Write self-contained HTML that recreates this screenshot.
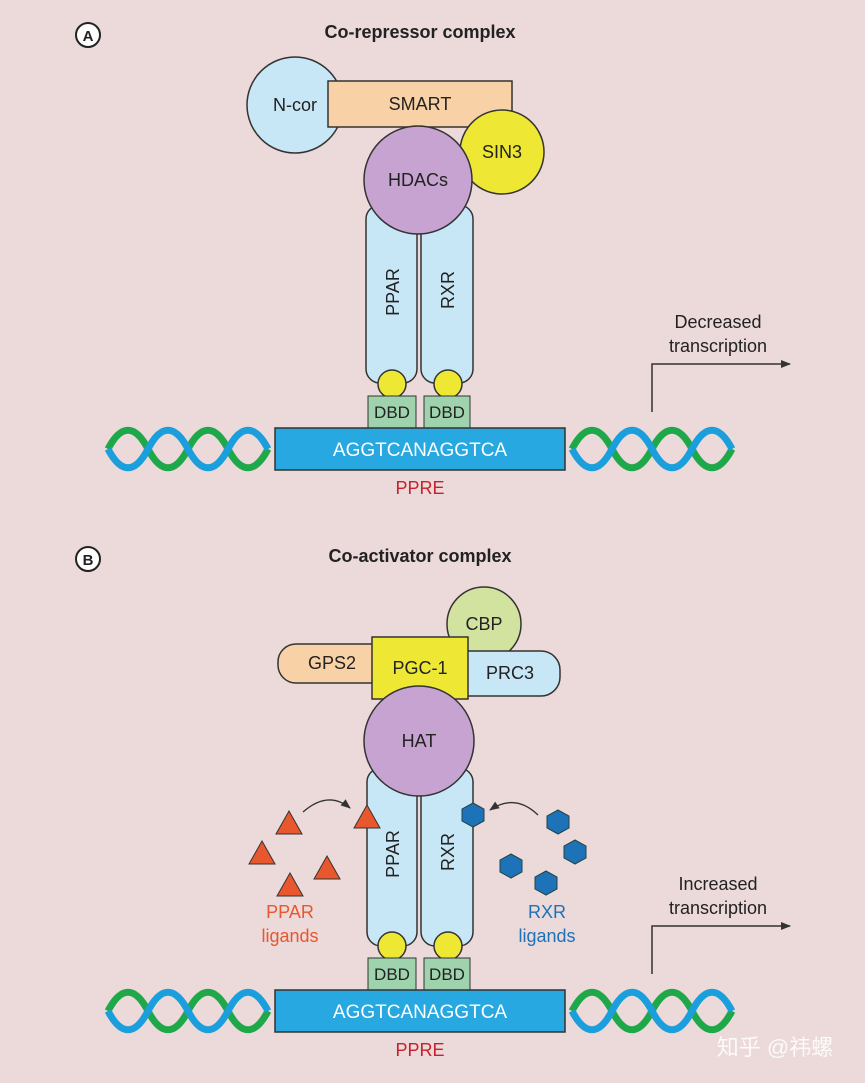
<!DOCTYPE html>
<html><head><meta charset="utf-8"><style>
html,body{margin:0;padding:0;background:#ecd9d9;}
svg{display:block;}
text{font-family:"Liberation Sans","Noto Sans CJK SC",sans-serif;}
</style></head><body>
<svg width="865" height="1083" viewBox="0 0 865 1083" xmlns="http://www.w3.org/2000/svg">
<defs>
<marker id="ah" markerWidth="10" markerHeight="8" refX="9" refY="4" orient="auto" markerUnits="userSpaceOnUse"><path d="M0,0 L10,4 L0,8 Z" fill="#333"/></marker>
<g id="helix">
<path d="M0,21 C13,-4 27,-4 40,21 S67,46 80,21 S107,-4 120,21 S147,46 160,21" fill="none" stroke="#1fa84a" stroke-width="7"/>
<path d="M0,21 C13,46 27,46 40,21 S67,-4 80,21 S107,46 120,21 S147,-4 160,21" fill="none" stroke="#1b9fdc" stroke-width="7"/>
</g>
</defs>
<rect width="865" height="1083" fill="#ecd9d9"/>

<!-- Panel A -->
<circle cx="88" cy="35" r="12" fill="#fff" stroke="#222" stroke-width="2"/>
<text x="88" y="41" font-size="15" font-weight="bold" text-anchor="middle" fill="#222">A</text>
<text x="420" y="38" font-size="18" font-weight="bold" text-anchor="middle" fill="#222">Co-repressor complex</text>

<circle cx="295" cy="105" r="48" fill="#c7e6f6" stroke="#333" stroke-width="1.5"/>
<text x="295" y="111" font-size="18" text-anchor="middle" fill="#222">N-cor</text>
<rect x="328" y="81" width="184" height="46" fill="#f8d2a6" stroke="#333" stroke-width="1.5"/>
<text x="420" y="110" font-size="18" text-anchor="middle" fill="#222">SMART</text>
<circle cx="502" cy="152" r="42" fill="#eee835" stroke="#333" stroke-width="1.5"/>
<text x="502" y="158" font-size="18" text-anchor="middle" fill="#222">SIN3</text>

<rect x="366" y="205" width="51" height="178" rx="14" fill="#c7e6f6" stroke="#333" stroke-width="1.5"/>
<rect x="421" y="205" width="52" height="178" rx="14" fill="#c7e6f6" stroke="#333" stroke-width="1.5"/>
<circle cx="418" cy="180" r="54" fill="#c6a3d0" stroke="#333" stroke-width="1.5"/>
<text x="418" y="186" font-size="18" text-anchor="middle" fill="#222">HDACs</text>
<text transform="translate(399,292) rotate(-90)" font-size="18" text-anchor="middle" fill="#222">PPAR</text>
<text transform="translate(454,290) rotate(-90)" font-size="18" text-anchor="middle" fill="#222">RXR</text>
<circle cx="392" cy="384" r="14" fill="#eee835" stroke="#333" stroke-width="1.5"/>
<circle cx="448" cy="384" r="14" fill="#eee835" stroke="#333" stroke-width="1.5"/>
<rect x="368" y="396" width="48" height="32" fill="#9fd3ad" stroke="#333" stroke-width="1"/>
<rect x="424" y="396" width="46" height="32" fill="#9fd3ad" stroke="#333" stroke-width="1"/>
<text x="392" y="418" font-size="17" text-anchor="middle" fill="#222">DBD</text>
<text x="447" y="418" font-size="17" text-anchor="middle" fill="#222">DBD</text>

<use href="#helix" x="108" y="428"/>
<use href="#helix" x="572" y="428"/>
<rect x="275" y="428" width="290" height="42" fill="#27a8e0" stroke="#333" stroke-width="1.5"/>
<text x="420" y="456" font-size="19" text-anchor="middle" fill="#fff">AGGTCANAGGTCA</text>
<text x="420" y="494" font-size="18" text-anchor="middle" fill="#c8202f">PPRE</text>

<text x="718" y="328" font-size="18" text-anchor="middle" fill="#222">Decreased</text>
<text x="718" y="352" font-size="18" text-anchor="middle" fill="#222">transcription</text>
<path d="M652,412 L652,364 L790,364" fill="none" stroke="#333" stroke-width="1.5" marker-end="url(#ah)"/>

<!-- Panel B -->
<circle cx="88" cy="559" r="12" fill="#fff" stroke="#222" stroke-width="2"/>
<text x="88" y="565" font-size="15" font-weight="bold" text-anchor="middle" fill="#222">B</text>
<text x="420" y="562" font-size="18" font-weight="bold" text-anchor="middle" fill="#222">Co-activator complex</text>

<circle cx="484" cy="624" r="37" fill="#d2e3a0" stroke="#333" stroke-width="1.5"/>
<text x="484" y="630" font-size="18" text-anchor="middle" fill="#222">CBP</text>
<rect x="278" y="644" width="115" height="39" rx="18" fill="#f8d2a6" stroke="#333" stroke-width="1.5"/>
<text x="332" y="669" font-size="18" text-anchor="middle" fill="#222">GPS2</text>
<rect x="450" y="651" width="110" height="45" rx="19" fill="#c7e6f6" stroke="#333" stroke-width="1.5"/>
<text x="510" y="679" font-size="18" text-anchor="middle" fill="#222">PRC3</text>
<rect x="372" y="637" width="96" height="62" fill="#eee835" stroke="#333" stroke-width="1.5"/>
<text x="420" y="674" font-size="18" text-anchor="middle" fill="#222">PGC-1</text>

<rect x="367" y="768" width="50" height="178" rx="14" fill="#c7e6f6" stroke="#333" stroke-width="1.5"/>
<rect x="421" y="768" width="52" height="178" rx="14" fill="#c7e6f6" stroke="#333" stroke-width="1.5"/>
<circle cx="419" cy="741" r="55" fill="#c6a3d0" stroke="#333" stroke-width="1.5"/>
<text x="419" y="747" font-size="18" text-anchor="middle" fill="#222">HAT</text>
<text transform="translate(399,854) rotate(-90)" font-size="18" text-anchor="middle" fill="#222">PPAR</text>
<text transform="translate(454,852) rotate(-90)" font-size="18" text-anchor="middle" fill="#222">RXR</text>
<circle cx="392" cy="946" r="14" fill="#eee835" stroke="#333" stroke-width="1.5"/>
<circle cx="448" cy="946" r="14" fill="#eee835" stroke="#333" stroke-width="1.5"/>
<rect x="368" y="958" width="48" height="32" fill="#9fd3ad" stroke="#333" stroke-width="1"/>
<rect x="424" y="958" width="46" height="32" fill="#9fd3ad" stroke="#333" stroke-width="1"/>
<text x="392" y="980" font-size="17" text-anchor="middle" fill="#222">DBD</text>
<text x="447" y="980" font-size="17" text-anchor="middle" fill="#222">DBD</text>

<use href="#helix" x="108" y="990"/>
<use href="#helix" x="572" y="990"/>
<rect x="275" y="990" width="290" height="42" fill="#27a8e0" stroke="#333" stroke-width="1.5"/>
<text x="420" y="1018" font-size="19" text-anchor="middle" fill="#fff">AGGTCANAGGTCA</text>
<text x="420" y="1056" font-size="18" text-anchor="middle" fill="#c8202f">PPRE</text>

<!-- ligands -->
<g fill="#e8572e" stroke="#333" stroke-width="1">
<polygon points="289,811 302,834 276,834"/>
<polygon points="262,841 275,864 249,864"/>
<polygon points="327,856 340,879 314,879"/>
<polygon points="290,873 303,896 277,896"/>
<polygon points="367,805 380,828 354,828"/>
</g>
<g fill="#1d72b8" stroke="#244" stroke-width="1">
<polygon points="473,803 484,809 484,821 473,827 462,821 462,809"/>
<polygon points="558,810 569,816 569,828 558,834 547,828 547,816"/>
<polygon points="575,840 586,846 586,858 575,864 564,858 564,846"/>
<polygon points="511,854 522,860 522,872 511,878 500,872 500,860"/>
<polygon points="546,871 557,877 557,889 546,895 535,889 535,877"/>
</g>
<path d="M303,812 Q328,790 350,808" fill="none" stroke="#333" stroke-width="1.3" marker-end="url(#ah)"/>
<path d="M538,815 Q515,793 490,810" fill="none" stroke="#333" stroke-width="1.3" marker-end="url(#ah)"/>
<text x="290" y="918" font-size="18" text-anchor="middle" fill="#e8572e">PPAR</text>
<text x="290" y="942" font-size="18" text-anchor="middle" fill="#e8572e">ligands</text>
<text x="547" y="918" font-size="18" text-anchor="middle" fill="#1d72b8">RXR</text>
<text x="547" y="942" font-size="18" text-anchor="middle" fill="#1d72b8">ligands</text>

<text x="718" y="890" font-size="18" text-anchor="middle" fill="#222">Increased</text>
<text x="718" y="914" font-size="18" text-anchor="middle" fill="#222">transcription</text>
<path d="M652,974 L652,926 L790,926" fill="none" stroke="#333" stroke-width="1.5" marker-end="url(#ah)"/>

<text x="775" y="1055" font-size="22" text-anchor="middle" fill="#ffffff" fill-opacity="0.85">知乎 @祎螺</text>
</svg>
</body></html>
